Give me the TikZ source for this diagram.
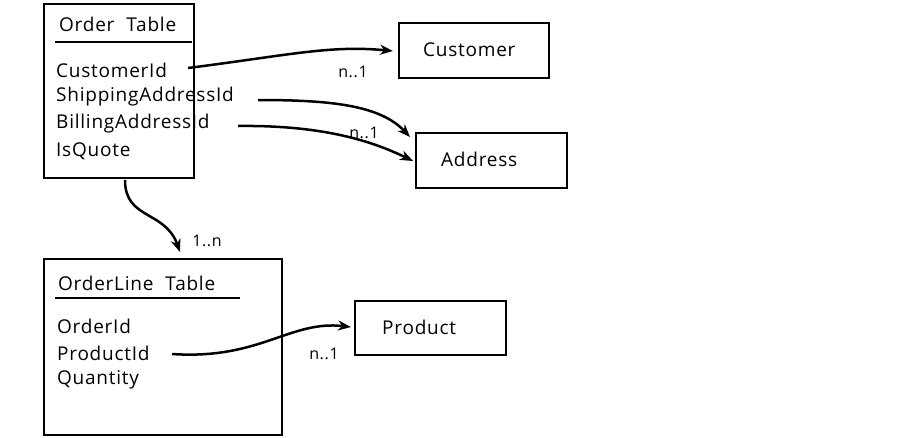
\documentclass[tikz,border=0pt]{standalone}
\usepackage{fontspec}
\setmainfont{Open Sans}[LetterSpace=4]
\usetikzlibrary{arrows.meta}
\begin{document}
\begin{tikzpicture}[x=1pt,y=-1pt,
  box/.style={draw,line width=2.2pt},
  lbl/.style={anchor=west,inner sep=0pt,font=\fontsize{19}{19}\selectfont},
  arr/.style={line width=2.5pt,-{Stealth[length=13pt,width=10pt]}},
  card/.style={inner sep=0pt,font=\fontsize{16}{16}\selectfont}]
\useasboundingbox (0,0) rectangle (900,437);
\draw[box] (44,4) rectangle (194,178);
\draw[box] (399,23) rectangle (549,78);
\draw[box] (416,133) rectangle (567,188);
\draw[box] (44,259) rectangle (282,435);
\draw[box] (355,301) rectangle (506,355);
\node[lbl] (ot) at (59,24) {Order\hspace{12pt}Table};
\draw[line width=1.8pt] (55,42) -- (192,42);
\node[lbl] (cid) at (56,70) {CustomerId};
\node[lbl] (sid) at (56,97) {ShippingAddressId};
\node[lbl] (bid) at (56,124) {BillingAddressId};
\node[lbl] (iq) at (56,151) {IsQuote};
\node[lbl] (cust) at (423,50) {Customer};
\node[lbl] (addr) at (441,159) {Address};
\node[lbl] (olt) at (58,283) {OrderLine\hspace{12pt}Table};
\draw[line width=1.8pt] (55,298) -- (240,298);
\node[lbl] (oid) at (57,326) {OrderId};
\node[lbl] (pid) at (57,353) {ProductId};
\node[lbl] (qty) at (57,380) {Quantity};
\node[lbl] (prod) at (382,327) {Product};
\coordinate (c1) at (188,68); \coordinate (c2) at (393,51);
\coordinate (s1) at (258,100); \coordinate (s2) at (410,137);
\coordinate (b1) at (238,126); \coordinate (b2) at (413,161);
\coordinate (o1) at (125,180); \coordinate (o2) at (180,252);
\coordinate (p1) at (172,354); \coordinate (p2) at (351,327);
\draw[arr] (c1) .. controls (290,55) and (330,45) .. (c2);
\draw[arr] (s1) .. controls (330,100) and (380,105) .. (s2);
\draw[arr] (b1) .. controls (320,125) and (370,140) .. (b2);
\draw[arr] (o1) .. controls (125,220) and (165,210) .. (o2);
\draw[arr] (p1) .. controls (260,360) and (290,320) .. (p2);
\node[card] (l1) at (353,72) {n..1};
\node[card] (l2) at (364,133) {n..1};
\node[card] (l3) at (207,241) {1..n};
\node[card] (l4) at (324,354) {n..1};
\end{tikzpicture}
\end{document}
